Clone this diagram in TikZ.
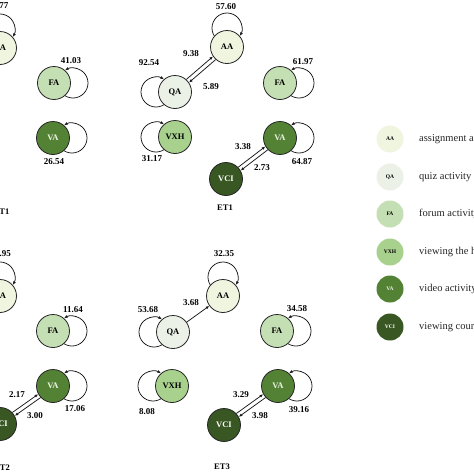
\documentclass[tikz,border=0pt]{standalone}
\usepackage{fontspec}
\setmainfont{Liberation Serif}
\usetikzlibrary{arrows.meta}
\definecolor{cAA}{HTML}{F0F5E0}
\definecolor{cQA}{HTML}{ECF1E8}
\definecolor{cFA}{HTML}{C5DFB4}
\definecolor{cVXH}{HTML}{A9D18E}
\definecolor{cVA}{HTML}{548235}
\definecolor{cVCI}{HTML}{385723}
\definecolor{cVAtxt}{HTML}{EEF4E8}
\newcommand{\loopR}[1]{\draw[arr] (#1.-49) arc[start angle=-121.8, end angle=121.8, radius=15pt];}
\newcommand{\loopL}[1]{\draw[arr] (#1.229) arc[start angle=-58.2, end angle=-301.8, radius=15pt];}
\newcommand{\loopU}[1]{\draw[arr] (#1.139) arc[start angle=211.8, end angle=-31.8, radius=15pt];}
\tikzset{
  st/.style={circle, draw=black!85, line width=0.8pt, minimum size=33pt, inner sep=0pt,
    font=\bfseries\fontsize{8.5}{9}\selectfont},
  nAA/.style={st, fill=cAA},
  nQA/.style={st, fill=cQA},
  nFA/.style={st, fill=cFA},
  nVXH/.style={st, fill=cVXH},
  nVA/.style={st, fill=cVA, text=cVAtxt},
  nVCI/.style={st, fill=cVCI, text=white},
  lg/.style={circle, draw=none, minimum size=27pt, inner sep=0pt,
    font=\bfseries\fontsize{5.5}{6}\selectfont},
  lgtext/.style={anchor=west, inner sep=0pt, text=black!85, font=\fontsize{10.5}{12}\selectfont},
  num/.style={inner sep=0pt, font=\bfseries\fontsize{9}{10}\selectfont},
  etl/.style={inner sep=0pt, font=\bfseries\fontsize{8.5}{10}\selectfont},
  arr/.style={-{Latex[length=3.6pt,width=3pt]}, line width=0.75pt, draw=black!90},
}
\begin{document}
\begin{tikzpicture}[x=1pt,y=1pt]
\useasboundingbox (0,-474) rectangle (474,0);
\fill[white] (0,-474) rectangle (474,0);
\clip (0,-474) rectangle (474,0);

% ---------- ET0 (top left, cut) ----------
\node[nAA] (AA0) at (0,-48) {AA};
\node[nFA] (FA0) at (54,-83) {FA};
\node[nVA] (VA0) at (53,-138) {VA};
\loopU{AA0}
\loopR{FA0}
\loopR{VA0}
\node[num, anchor=east] (l77) at (8.5,-6) {77};
\node[num] (l4103) at (71,-61) {41.03};
\node[num] (l2654) at (54,-162) {26.54};
\node[etl, anchor=east] (t1) at (9.5,-212) {T1};

% ---------- ET1 (top middle) ----------
\node[nAA] (AA1) at (227,-47) {AA};
\node[nQA] (QA1) at (175,-92) {QA};
\node[nVXH] (VXH1) at (175,-137) {VXH};
\node[nVCI] (VCI1) at (226,-179) {VCI};
\node[nFA] (FA1) at (280,-83) {FA};
\node[nVA] (VA1) at (280,-138) {VA};
\loopU{AA1}
\loopL{QA1}
\loopL{VXH1}
\loopR{FA1}
\loopR{VA1}
\draw[arr] (QA1.48) -- (AA1.214);
\draw[arr] (AA1.228) -- (QA1.34);
\draw[arr] (VCI1.44) -- (VA1.210);
\draw[arr] (VA1.224) -- (VCI1.30);
\node[num] (l5760) at (226,-7) {57.60};
\node[num] (l9254) at (149,-63) {92.54};
\node[num] (l938) at (191,-54) {9.38};
\node[num] (l589) at (211,-87) {5.89};
\node[num] (l3117) at (152,-159) {31.17};
\node[num] (l6197) at (303,-62) {61.97};
\node[num] (l6487) at (302,-162) {64.87};
\node[num] (l338) at (243,-147) {3.38};
\node[num] (l273) at (262,-168) {2.73};
\node[etl] (et1) at (225,-208) {ET1};

% ---------- ET2 (bottom left, cut) ----------
\node[nAA] (AA2) at (0,-296) {AA};
\node[nFA] (FA2) at (53,-331) {FA};
\node[nVA] (VA2) at (53,-386) {VA};
\node[nVCI] (VCI2) at (0,-424) {VCI};
\loopU{AA2}
\loopR{FA2}
\loopR{VA2}
\draw[arr] (VCI2.43) -- (VA2.209);
\draw[arr] (VA2.223) -- (VCI2.29);
\node[num, anchor=east] (l95) at (11,-254) {.95};
\node[num] (l1164) at (73,-310) {11.64};
\node[num] (l1706) at (75,-409) {17.06};
\node[num] (l217) at (17,-395) {2.17};
\node[num] (l300) at (35,-416) {3.00};
\node[etl, anchor=east] (t2) at (10,-468) {T2};

% ---------- ET3 (bottom middle) ----------
\node[nAA] (AA3) at (223,-296) {AA};
\node[nQA] (QA3) at (173,-332) {QA};
\node[nVXH] (VXH3) at (172,-386) {VXH};
\node[nVCI] (VCI3) at (224,-425) {VCI};
\node[nFA] (FA3) at (277,-331) {FA};
\node[nVA] (VA3) at (278,-386) {VA};
\loopU{AA3}
\loopL{QA3}
\loopL{VXH3}
\loopR{FA3}
\loopR{VA3}
\draw[arr] (QA3) -- (AA3);
\draw[arr] (VCI3.43) -- (VA3.209);
\draw[arr] (VA3.223) -- (VCI3.29);
\node[num] (l3235) at (224,-254) {32.35};
\node[num] (l5368) at (148,-310) {53.68};
\node[num] (l368) at (191,-303) {3.68};
\node[num] (l808) at (147,-412) {8.08};
\node[num] (l3458) at (297,-309) {34.58};
\node[num] (l3916) at (299,-410) {39.16};
\node[num] (l329) at (241,-395) {3.29};
\node[num] (l398) at (260,-416) {3.98};
\node[etl] (et3) at (222,-467) {ET3};

% ---------- Legend ----------
\node[lg, fill=cAA] (gAA) at (390,-139) {AA};
\node[lg, fill=cQA] (gQA) at (390,-177) {QA};
\node[lg, fill=cFA] (gFA) at (390,-214) {FA};
\node[lg, fill=cVXH] (gVXH) at (390,-252) {VXH};
\node[lg, fill=cVA, text=cVAtxt] (gVA) at (390,-289) {VA};
\node[lg, fill=cVCI, text=white] (gVCI) at (390,-327) {VCI};
\node[lgtext] (tAA) at (419,-139) {assignment activity};
\node[lgtext] (tQA) at (419,-177) {quiz activity};
\node[lgtext] (tFA) at (419,-214) {forum activity};
\node[lgtext] (tVXH) at (419,-252) {viewing the history};
\node[lgtext] (tVA) at (419,-289) {video activity};
\node[lgtext] (tVCI) at (419,-327) {viewing course};
\end{tikzpicture}
\end{document}
